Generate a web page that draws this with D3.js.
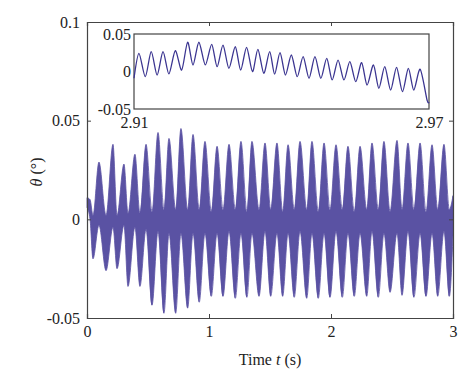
<!DOCTYPE html>
<html>
<head>
<meta charset="utf-8">
<script src="https://cdn.jsdelivr.net/npm/d3@7"></script>
<style>
  html, body { margin: 0; padding: 0; background: #fff; }
  svg text { font-family: "Liberation Serif", "Times New Roman", Times, "DejaVu Serif", serif !important; fill: #222; }
</style>
</head>
<body>
<div id="chart"></div>
<script>
// main trace, read as envelope knots (upper spikes / lower spikes)
const upTimes  = [0.098, 0.213, 0.303, 0.393, 0.484, 0.582, 0.672, 0.770, 0.869, 0.967,
                  1.066, 1.164, 1.262, 1.352, 1.459, 1.557, 1.648, 1.746, 1.844, 1.943,
                  2.041, 2.139, 2.238, 2.336, 2.434, 2.541, 2.631, 2.730, 2.828, 2.926];
const upPeaks  = [0.029, 0.038, 0.028, 0.033, 0.038, 0.044, 0.041, 0.046, 0.043, 0.0395,
                  0.037, 0.038, 0.0395, 0.0395, 0.0387, 0.0387, 0.0378, 0.0395, 0.0395, 0.0387,
                  0.0378, 0.037, 0.037, 0.0387, 0.0395, 0.040, 0.0387, 0.0387, 0.0378, 0.038];
const upFloor  = [-0.003, -0.004, -0.003, -0.004, -0.005, -0.006, -0.007, -0.007, -0.007, -0.007,
                  -0.007, -0.006, -0.007, -0.007, -0.006, -0.007, -0.007, -0.006, -0.007, -0.007,
                  -0.006, -0.007, -0.007, -0.006, -0.007, -0.007, -0.006, -0.007, -0.007, -0.006];
const lowTimes = [0.049, 0.156, 0.246, 0.336, 0.434, 0.533, 0.631, 0.727, 0.825, 0.920,
                  1.019, 1.115, 1.216, 1.311, 1.410, 1.506, 1.604, 1.699, 1.801, 1.896,
                  1.992, 2.093, 2.191, 2.293, 2.388, 2.484, 2.582, 2.680, 2.779, 2.875, 2.970];
const lowPeaks = [-0.020, -0.026, -0.025, -0.034, -0.034, -0.0435, -0.0476, -0.0476, -0.045, -0.042,
                  -0.039, -0.039, -0.040, -0.0395, -0.039, -0.039, -0.039, -0.0395, -0.040, -0.040,
                  -0.0395, -0.0395, -0.039, -0.039, -0.0395, -0.037, -0.0385, -0.0395, -0.039, -0.039, -0.039];
const lowCeil  = [0.002, 0.002, 0.002, 0.003, 0.003, 0.004, 0.005, 0.005, 0.005, 0.005,
                  0.004, 0.005, 0.005, 0.004, 0.005, 0.005, 0.004, 0.005, 0.005, 0.004,
                  0.005, 0.005, 0.004, 0.005, 0.005, 0.004, 0.005, 0.005, 0.004, 0.005, 0.005];
const edgeTimes = [0, 0.025, 3.0];
const edgeHigh  = [0.011, 0.010, 0.012];
const edgeLow   = [0.006, 0.000, -0.008];

// inset trace 2.91 - 2.97 s (peaks and troughs)
const insetTimes = [2.9100, 2.9110, 2.9123, 2.9135, 2.9147, 2.9159, 2.9171, 2.9184, 2.9197, 2.9209,
                    2.9220, 2.9232, 2.9245, 2.9258, 2.9269, 2.9281, 2.9293, 2.9306, 2.9317, 2.9329,
                    2.9341, 2.9352, 2.9364, 2.9376, 2.9386, 2.9397, 2.9408, 2.9420, 2.9432, 2.9444,
                    2.9456, 2.9468, 2.9480, 2.9492, 2.9503, 2.9515, 2.9527, 2.9539, 2.9551, 2.9563,
                    2.9574, 2.9587, 2.9598, 2.9610, 2.9622, 2.9634, 2.9646, 2.9658, 2.9669, 2.9682,
                    2.9696, 2.9700];
const insetVals  = [-0.009, 0.0243, -0.0069, 0.0264, -0.0047, 0.0264, -0.0033, 0.0277, 0.002, 0.039,
                    0.0087, 0.039, 0.0087, 0.0363, 0.0064, 0.0353, 0.0042, 0.033, 0.002, 0.0323,
                    -0.0003, 0.0296, -0.0024, 0.0264, -0.0035, 0.0251, -0.0047, 0.022, -0.0069, 0.0198,
                    -0.0091, 0.0198, -0.0091, 0.0176, -0.0113, 0.0153, -0.0113, 0.0131, -0.0136, 0.0118,
                    -0.018, 0.0087, -0.0224, 0.0064, -0.0247, 0.0056, -0.0269, 0.0042, -0.0247, 0.0029,
                    -0.038, -0.041];

const xTicks = [0, 1, 2, 3];
const yTicks = [-0.05, 0, 0.05, 0.1];
const insetXTicks = [2.91, 2.97];
const insetYTicks = [-0.05, 0, 0.05];

const FONT = '"Liberation Serif", "Times New Roman", Times, serif';
const W = 474, H = 385;
const svg = d3.select('#chart').append('svg')
  .attr('width', W).attr('height', H);

const x = d3.scaleLinear().domain([0, 3]).range([87, 453]);
const y = d3.scaleLinear().domain([-0.05, 0.1]).range([318, 22]);

const fmt = d => d === 0 ? '0' : String(d);

// envelope knots merged in time order
const knots = [];
upTimes.forEach((t, i) => knots.push({ t, hi: upPeaks[i], lo: upFloor[i] }));
lowTimes.forEach((t, i) => knots.push({ t, hi: lowCeil[i], lo: lowPeaks[i] }));
edgeTimes.forEach((t, i) => knots.push({ t, hi: edgeHigh[i], lo: edgeLow[i] }));
knots.sort((a, b) => a.t - b.t);

const band = d3.area()
  .x(d => x(d.t))
  .y0(d => y(d.lo))
  .y1(d => y(d.hi))
  .curve(d3.curveMonotoneX);

svg.append('path')
  .datum(knots)
  .attr('d', band)
  .attr('fill', '#5a52a3')
  .attr('stroke', '#5a52a3')
  .attr('stroke-width', 0.8);

// axes, ticks pointing inward
const gx = svg.append('g').attr('transform', `translate(0,${y(-0.05)})`)
  .call(d3.axisBottom(x).tickValues(xTicks).tickFormat(fmt).tickSize(-4).tickPadding(8));
const gxTop = svg.append('g').attr('transform', `translate(0,${y(0.1)})`)
  .call(d3.axisTop(x).tickValues(xTicks).tickFormat('').tickSize(-4));
const gy = svg.append('g').attr('transform', `translate(${x(0)},0)`)
  .call(d3.axisLeft(y).tickValues(yTicks).tickFormat(fmt).tickSize(-4).tickPadding(7));
const gyRight = svg.append('g').attr('transform', `translate(${x(3)},0)`)
  .call(d3.axisRight(y).tickValues(yTicks).tickFormat('').tickSize(-4));

[gx, gxTop, gy, gyRight].forEach(g => {
  g.attr('font-family', FONT).attr('font-size', 16);
  g.select('.domain').attr('stroke', '#444').attr('stroke-width', 1.2);
  g.selectAll('.tick line').attr('stroke', '#444');
  g.selectAll('text').attr('fill', '#222');
});

// inset
const xi = d3.scaleLinear().domain([2.91, 2.97]).range([134, 429]);
const yi = d3.scaleLinear().domain([-0.05, 0.05]).range([109, 34]);

svg.append('rect')
  .attr('x', xi(2.91)).attr('y', yi(0.05))
  .attr('width', xi(2.97) - xi(2.91)).attr('height', yi(-0.05) - yi(0.05))
  .attr('fill', '#fff').attr('stroke', '#444').attr('stroke-width', 1.2);

const insetLine = d3.line()
  .x((d, i) => xi(insetTimes[i]))
  .y(d => yi(d))
  .curve(d3.curveCardinal.tension(0.2));

svg.append('path')
  .datum(insetVals)
  .attr('d', insetLine)
  .attr('fill', 'none')
  .attr('stroke', '#3b3591')
  .attr('stroke-width', 1.3);

const gix = svg.append('g').attr('transform', `translate(0,${yi(-0.05)})`)
  .call(d3.axisBottom(xi).tickValues(insetXTicks).tickFormat(d => d.toFixed(2)).tickSize(0).tickPadding(8));
const giy = svg.append('g').attr('transform', `translate(${xi(2.91)},0)`)
  .call(d3.axisLeft(yi).tickValues(insetYTicks).tickFormat(fmt).tickSize(0).tickPadding(3));
[gix, giy].forEach(g => {
  g.attr('font-family', FONT).attr('font-size', 16);
  g.select('.domain').remove();
  g.selectAll('text').attr('fill', '#222');
});

// axis titles
svg.append('text')
  .attr('transform', 'translate(42,172) rotate(-90)')
  .attr('text-anchor', 'middle')
  .attr('font-family', FONT)
  .attr('font-size', 16)
  .html('<tspan font-style="italic">θ</tspan> (°)');

svg.append('text')
  .attr('x', 270).attr('y', 365)
  .attr('text-anchor', 'middle')
  .attr('font-family', FONT)
  .attr('font-size', 16)
  .html('Time <tspan font-style="italic">t</tspan> (s)');
</script>
</body>
</html>
